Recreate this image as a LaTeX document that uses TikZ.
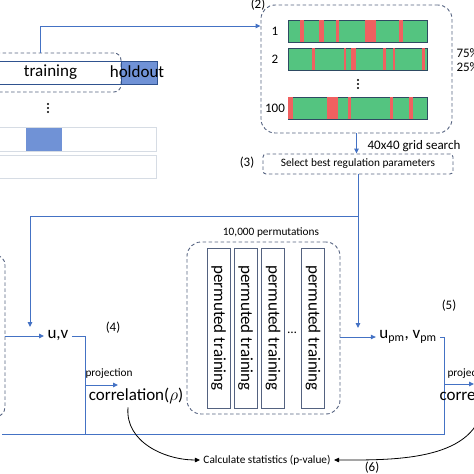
\documentclass[tikz,border=0pt]{standalone}
\usepackage{fontspec}
\setmainfont{Carlito}
\usetikzlibrary{arrows.meta}
\definecolor{lineblue}{RGB}{68,114,196}
\definecolor{dashgray}{RGB}{84,98,128}
\definecolor{boxblue}{RGB}{47,82,143}
\definecolor{holdblue}{RGB}{112,146,214}
\definecolor{lightline}{RGB}{214,220,228}
\definecolor{bargreen}{RGB}{84,196,128}
\definecolor{barred}{RGB}{240,96,96}
\definecolor{barline}{RGB}{46,74,98}
\newcommand\fsbig{\fontsize{17}{20}\selectfont}
\newcommand\fsmid{\fontsize{13}{15}\selectfont}
\newcommand\fssmall{\fontsize{11.3}{13}\selectfont}
\tikzset{
    flow/.style={draw=lineblue,line width=1pt},
    dashbox/.style={draw=dashgray,line width=0.9pt,dash pattern=on 3.5pt off 2.5pt,rounded corners=#1},
    dashbox/.default=12pt,
    bar/.style={draw=barline,line width=0.8pt,fill=bargreen,minimum width=139pt,minimum height=22pt,inner sep=0pt},
    pbox/.style={draw=dashgray,line width=0.9pt,rotate=-90,minimum width=160pt,minimum height=23pt,inner sep=0pt,font=\fsbig}
}
\begin{document}
\begin{tikzpicture}[x=1pt,y=-1pt,>={Triangle[length=5pt,width=4.5pt]}]
    \useasboundingbox (0,0) rectangle (474,474);
    \clip (0,0) rectangle (474,474);
    \node[dashbox=7pt,minimum width=141pt,minimum height=39pt] (cv) at (50.5,72.5) {};
    \node[draw=boxblue,line width=0.8pt,minimum width=141pt,minimum height=23pt] (trn) at (50.5,72.5) {};
    \node[draw=boxblue,line width=0.8pt,fill=holdblue,minimum width=36pt,minimum height=23pt] (hold) at (139,72.5) {};
    \node[font=\fsbig] (trnlbl) at (50.5,72) {training};
    \node[font=\fsbig] (holdlbl) at (137,72) {holdout};
    \foreach \y in {104,108,112}
    {\fill (48,\y) circle (1.2pt);}
    \node[fill=holdblue,minimum width=36pt,minimum height=24pt,inner sep=0pt] (blk) at (44,139) {};
    \node[draw=lightline,line width=0.8pt,minimum width=176pt,minimum height=24pt] (fold1) at (68,139) {};
    \node[draw=lightline,line width=0.8pt,minimum width=176pt,minimum height=23pt] (fold2) at (68,166.5) {};
    \node[dashbox=14pt,minimum width=191pt,minimum height=128pt] (grid) at (356.5,69) {};
    \node[font=\fsmid] (n2) at (258,5) {(2)};
    \foreach \n/\y/\cuts in {1/31/{12/16,31/36,48/51,77/88,111/115},
                             2/59/{24/27,56/58,63/68,95/98,105/107,134/137},
                             100/108/{0/5,39/50,60/63,102/105,121/125}}
    {
        \node[bar] (bar\n) at (357.5,\y) {};
        \foreach \a/\b in \cuts
        {\fill[barred] ([xshift=\a pt,yshift=0.5pt]bar\n.south west) rectangle ([xshift=\b pt,yshift=-0.5pt]bar\n.north west);}
        \node[font=\fsmid] (num\n) at (275,\y) {\n};
    }
    \foreach \y in {80,84,88}
    {\fill (358,\y) circle (1.2pt);}
    \node[font=\fsmid,anchor=west] (pc75) at (453,53) {75\%};
    \node[font=\fsmid,anchor=west] (pc25) at (453,67) {25\%};
    \coordinate (c1) at (40,26);
    \draw[flow,->] (cv.north -| c1) |- (grid.west |- c1);
    \node[dashbox=3pt,minimum width=190pt,minimum height=20pt,font=\fssmall] (sel) at (358,164) {Select best regulation parameters};
    \node[font=\fsmid] (gs) at (414,146) {40x40 grid search};
    \node[font=\fsmid] (n3) at (247,163) {(3)};
    \draw[flow,->] (grid.south) -- (grid.south |- sel.north);
    \coordinate (k1) at (358,216);
    \coordinate (k2) at (358,328);
    \coordinate (k3) at (30,327);
    \draw[flow,->] (sel.south) -- (k2);
    \draw[flow,->] (k1) -| (k3);
    \node[dashbox=10pt,minimum width=60pt,minimum height=162pt] (trainL) at (-25,336) {};
    \node[font=\fsbig] (uv) at (58,336) {u,v};
    \draw[flow,->] (trainL.east |- uv) -- (uv.west);
    \node[font=\fsmid] (n4) at (113,328) {(4)};
    \node[dashbox=14pt,minimum width=153pt,minimum height=172pt] (perm) at (263.5,328) {};
    \node[font=\fssmall] (permlbl) at (271,233) {10,000 permutations};
    \foreach \i/\x in {1/218.5,2/245.5,3/273,4/313}
    {\node[pbox] (pt\i) at (\x,328) {permuted training};}
    \node[font=\fsmid] (pdots) at (292,333) {…};
    \node[font=\fsbig] (upm) at (408,337) {u\textsubscript{pm}, v\textsubscript{pm}};
    \draw[flow,->] (perm.east |- upm.west) -- (upm.west);
    \node[font=\fsmid] (n5) at (449,306) {(5)};
    \coordinate (j1) at (85,434);
    \coordinate (j2) at (444,434);
    \coordinate (b0) at (2,434);
    \draw[flow] (uv.east) -| (j1);
    \draw[flow] (upm.east) -| (j2) -- (b0);
    \coordinate (p1) at (85,385);
    \coordinate (p2) at (118,385);
    \draw[flow,->] (p1) -- (p2);
    \node[font=\fssmall] (proj1) at (109,374) {projection};
    \node[font=\fsbig] (corr) at (136,396) {correlation($\rho$)};
    \coordinate (p3) at (444,384);
    \coordinate (p4) at (474,384);
    \draw[flow,->] (p3) -- (p4);
    \node[font=\fssmall,anchor=west] (proj2) at (444,374) {projection};
    \node[font=\fsbig,anchor=west] (corr2) at (436,396) {correlation($\rho$)};
    \node[font=\fssmall] (calc) at (267,460) {Calculate statistics (p-value)};
    \draw[->,line width=0.8pt] ([xshift=-8pt]corr.south) to[out=-95,in=180] (calc.west);
    \draw[->,line width=0.8pt] ([xshift=-4pt]corr2.south) to[out=-100,in=0,looseness=0.9] (calc.east);
    \node[font=\fsmid] (n6) at (372,468) {(6)};
\end{tikzpicture}
\end{document}
